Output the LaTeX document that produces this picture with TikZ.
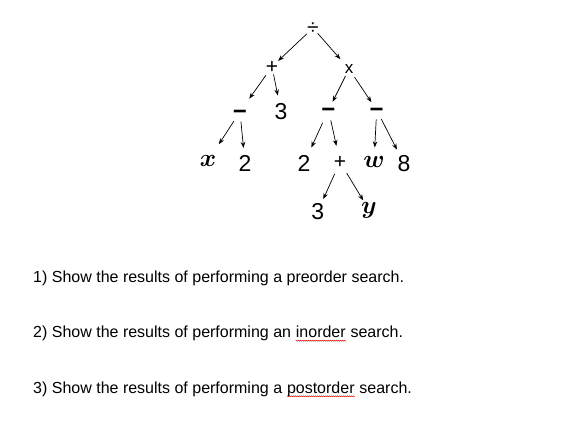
\documentclass[tikz,border=0pt]{standalone}
\usepackage{fontspec}
\setmainfont{Liberation Sans}
\usetikzlibrary{calc,arrows.meta,decorations.pathmorphing}
\begin{document}
\begin{tikzpicture}[x=1pt,y=-1pt,
  lab/.style={inner sep=0pt, font=\fontsize{23}{23}\selectfont},
  oplab/.style={inner sep=0pt, text height=13.9pt, text depth=0pt, font=\fontsize{21}{21}\selectfont},
  minuslab/.style={inner sep=0pt, text height=15.8pt, text depth=0pt, font=\fontsize{24}{24}\selectfont\bfseries},
  varlab/.style={inner sep=0pt, font=\fontsize{30}{30}\selectfont\boldmath},
  txt/.style={inner sep=0pt, anchor=base west, font=\fontsize{16}{16}\selectfont},
  arr/.style={-{Stealth[length=6pt,width=4.5pt]}, line width=0.7pt},
  squig/.style={red!85!black, line width=0.4pt, decorate, decoration={zigzag, segment length=2pt, amplitude=0.6pt}}]
\useasboundingbox[fill=white] (0,0) rectangle (563,434);
% tree nodes
\node[oplab] (div) at (313,28) {÷};
\node[oplab] (p1) at (272,66.7) {+};
\node[inner sep=0pt, font=\fontsize{17}{17}\selectfont] (times) at (349,69) {x};
\node[minuslab] (mL) at (240,111.7) {−};
\node[lab] (three1) at (281,111.7) {3};
\node[minuslab] (mM) at (328.5,110) {−};
\node[minuslab] (mR) at (376.7,110) {−};
\node[varlab] (x) at (208,161) {$x$};
\node[lab] (twoA) at (245,163.5) {2};
\node[lab] (twoB) at (304,163.5) {2};
\node[oplab] (p2) at (340,162) {+};
\node[varlab] (w) at (374,162) {$w$};
\node[lab] (eight) at (404,163.5) {8};
\node[lab] (three2) at (317.7,211.5) {3};
\node[varlab] (y) at (369,210) {$y$};
% connectors
\draw[arr] ($(div)!0.15!(p1)$) -- ($(div)!0.85!(p1)$);
\draw[arr] ($(div)!0.13!(times)$) -- ($(div)!0.76!(times)$);
\draw[arr] ($(p1)!0.19!(mL)$) -- ($(p1)!0.71!(mL)$);
\draw[arr] ($(p1)!0.17!(three1)$) -- ($(p1)!0.64!(three1)$);
\draw[arr] ($(times)!0.17!(mM)$) -- ($(times)!0.80!(mM)$);
\draw[arr] ($(times)!0.20!(mR)$) -- ($(times)!0.81!(mR)$);
\draw[arr] ($(mL)!0.19!(x)$) -- ($(mL)!0.66!(x)$);
\draw[arr] ($(mL)!0.19!(twoA)$) -- ($(mL)!0.70!(twoA)$);
\draw[arr] ($(mM)!0.24!(twoB)$) -- ($(mM)!0.70!(twoB)$);
\draw[arr] ($(mM)!0.20!(p2)$) -- ($(mM)!0.69!(p2)$);
\draw[arr] ($(mR)!0.18!(w)$) -- ($(mR)!0.72!(w)$);
\draw[arr] ($(mR)!0.17!(eight)$) -- ($(mR)!0.74!(eight)$);
\draw[arr] ($(p2)!0.24!(three2)$) -- ($(p2)!0.75!(three2)$);
\draw[arr] ($(p2)!0.23!(y)$) -- ($(p2)!0.80!(y)$);
% questions
\node[txt] (q1) at (33,282.7) {1) Show the results of performing a preorder search.};
\node[txt] (q2a) at (33,337.7) {2) Show the results of performing an};
\node[txt] (q2b) at ($(q2a.base east)+(4.4,0)$) {inorder};
\node[txt] (q2c) at ($(q2b.base east)+(4.4,0)$) {search.};
\node[txt] (q3a) at (33,393.3) {3) Show the results of performing a};
\node[txt] (q3b) at ($(q3a.base east)+(4.4,0)$) {postorder};
\node[txt] (q3c) at ($(q3b.base east)+(4.4,0)$) {search.};
\draw[squig] ($(q2b.base west)+(0,3)$) -- ($(q2b.base east)+(0,3)$);
\draw[squig] ($(q3b.base west)+(0,3)$) -- ($(q3b.base east)+(0,3)$);
\end{tikzpicture}
\end{document}
